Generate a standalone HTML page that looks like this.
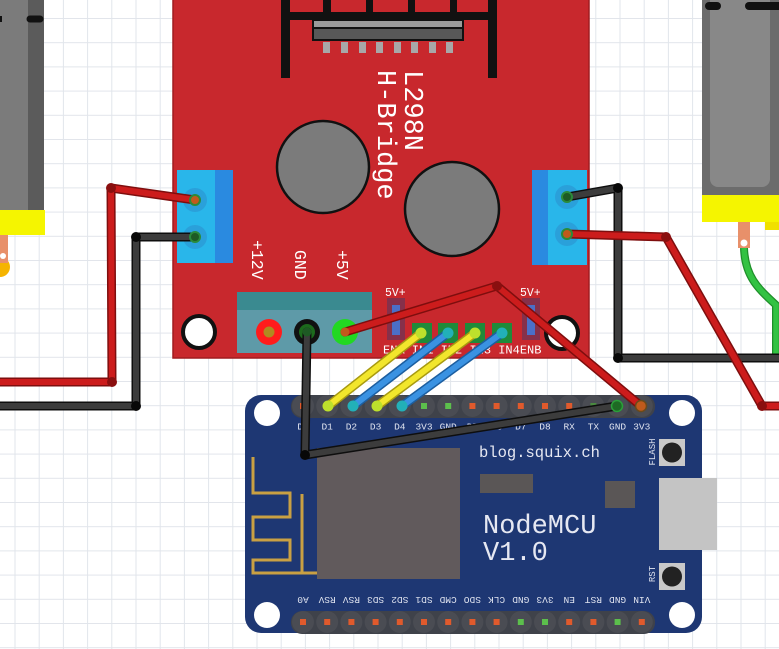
<!DOCTYPE html>
<html><head><meta charset="utf-8"><style>
html,body{margin:0;padding:0;background:#fff;}
svg{display:block;}
text{font-family:"Liberation Mono",monospace;}
</style></head><body>
<svg width="779" height="649" viewBox="0 0 779 649" xmlns="http://www.w3.org/2000/svg">
<defs>
<pattern id="grid" x="14.5" y="18" width="24.2" height="24.2" patternUnits="userSpaceOnUse">
<path d="M0.5 0V24.2M0 0.5H24.2" stroke="#e1e5eb" stroke-width="1" fill="none"/>
</pattern>
</defs>
<rect width="779" height="649" fill="#fff"/>
<rect width="779" height="649" fill="url(#grid)"/>

<!-- Left motor -->
<rect x="0" y="0" width="28" height="210" fill="#7b7b7b"/>
<rect x="28" y="0" width="16" height="210" fill="#5b5b5b"/>
<line x1="30" y1="19" x2="40" y2="19" stroke="#111" stroke-width="7" stroke-linecap="round"/>
<rect x="0" y="16" width="2" height="6" fill="#111"/>
<rect x="0" y="210" width="45" height="25" fill="#f5f500"/>
<circle cx="0" cy="267" r="10" fill="#f5b400"/>
<rect x="0" y="235" width="8" height="28" fill="#e8906a"/>
<circle cx="3" cy="256" r="3" fill="#fff"/>

<!-- Right motor -->
<rect x="702" y="0" width="77" height="195" fill="#6c6c6c"/>
<rect x="710" y="-10" width="60" height="197" rx="8" fill="#888888"/>
<line x1="709" y1="6" x2="717" y2="6" stroke="#111" stroke-width="8" stroke-linecap="round"/>
<line x1="749" y1="6" x2="782" y2="6" stroke="#111" stroke-width="8" stroke-linecap="round"/>
<rect x="702" y="195" width="77" height="27" fill="#f5f500"/>
<rect x="765" y="222" width="14" height="8" fill="#f0e000"/>
<path d="M744,248 C745,278 760,290 776,305 L776,362" fill="none" stroke="#1f8f2a" stroke-width="8"/>
<path d="M744,248 C745,278 760,290 776,305 L776,362" fill="none" stroke="#33c243" stroke-width="5.5"/>
<rect x="738" y="222" width="12" height="26" fill="#e8906a"/>
<circle cx="744" cy="243" r="3.5" fill="#fff"/>

<!-- L298N board -->
<rect x="173" y="-2" width="416" height="360" fill="#c8282d" stroke="#a01c20" stroke-width="1.5"/>
<g fill="#111">
<rect x="281" y="0" width="9" height="78"/>
<rect x="488" y="0" width="9" height="78"/>
<rect x="281" y="12" width="216" height="8"/>
<rect x="323" y="0" width="8" height="13"/>
<rect x="366" y="0" width="7" height="13"/>
<rect x="408" y="0" width="7" height="13"/>
<rect x="450" y="0" width="7" height="13"/>
</g>
<rect x="312" y="19" width="152" height="22" fill="#111"/>
<rect x="314" y="21" width="148" height="6" fill="#9b9b9b"/>
<rect x="314" y="29" width="148" height="10" fill="#585858"/>
<g fill="#a8a8a8">
<rect x="323" y="42" width="7" height="11"/>
<rect x="341" y="42" width="7" height="11"/>
<rect x="359" y="42" width="7" height="11"/>
<rect x="376" y="42" width="7" height="11"/>
<rect x="394" y="42" width="7" height="11"/>
<rect x="411" y="42" width="7" height="11"/>
<rect x="429" y="42" width="7" height="11"/>
<rect x="446" y="42" width="7" height="11"/>
</g>
<text transform="translate(405,70) rotate(90)" font-size="27" fill="#fff">L298N</text>
<text transform="translate(378,70) rotate(90)" font-size="27" fill="#fff">H-Bridge</text>

<circle cx="323" cy="167" r="46" fill="#7b7b7b" stroke="#111" stroke-width="2.5"/>
<circle cx="452" cy="209" r="47" fill="#7b7b7b" stroke="#111" stroke-width="2.5"/>

<!-- left terminal -->
<rect x="177" y="170" width="38" height="93" fill="#29b6ea"/>
<rect x="215" y="170" width="18" height="93" fill="#2a8ae0"/>
<circle cx="195" cy="200" r="12" fill="#2aa0da"/>
<circle cx="195" cy="237" r="12" fill="#2aa0da"/>
<!-- right terminal -->
<rect x="532" y="170" width="16" height="95" fill="#2a8ae0"/>
<rect x="548" y="170" width="39" height="95" fill="#29b6ea"/>
<circle cx="567" cy="197" r="12" fill="#2aa0da"/>
<circle cx="567" cy="234" r="12" fill="#2aa0da"/>

<!-- power labels -->
<text transform="translate(252,240) rotate(90)" font-size="16.5" fill="#fff">+12V</text>
<text transform="translate(295,250) rotate(90)" font-size="16.5" fill="#fff">GND</text>
<text transform="translate(337,250) rotate(90)" font-size="16.5" fill="#fff">+5V</text>

<!-- power terminal block -->
<rect x="237" y="292" width="135" height="61" fill="#5e9aa8"/>
<rect x="237" y="292" width="135" height="18" fill="#3a8a90"/>
<circle cx="269" cy="332" r="13" fill="#ff1c1c"/>
<circle cx="269" cy="332" r="5.5" fill="#b08a20"/>
<circle cx="307" cy="332" r="13" fill="#111"/>
<circle cx="307" cy="332" r="8" fill="#1c6a1c"/>
<circle cx="345" cy="332" r="13" fill="#22d822"/>

<!-- mounting holes -->
<circle cx="199" cy="332" r="16" fill="#fff" stroke="#111" stroke-width="4"/>
<circle cx="562" cy="333" r="16" fill="#fff" stroke="#111" stroke-width="4"/>

<!-- jumpers & pads -->
<text x="385" y="296" font-size="11.5" fill="#fff">5V+</text>
<text x="520" y="296" font-size="11.5" fill="#fff">5V+</text>
<rect x="387" y="298" width="18" height="42" fill="#86304a"/>
<rect x="392" y="305" width="8" height="30" fill="#4b6fc8"/>
<rect x="522" y="298" width="18" height="42" fill="#86304a"/>
<rect x="527" y="305" width="8" height="30" fill="#4b6fc8"/>
<g fill="#1f8a3a">
<rect x="412" y="323" width="20" height="20"/>
<rect x="438" y="323" width="20" height="20"/>
<rect x="465" y="323" width="20" height="20"/>
<rect x="492" y="323" width="20" height="20"/>
</g>
<text x="383" y="353.5" font-size="12" fill="#fff">ENA IN1 IN2 IN3 IN4ENB</text>

<!-- NodeMCU board -->
<rect x="245" y="395" width="457" height="238" rx="16" fill="#1e3773"/>
<circle cx="267" cy="413" r="13" fill="#fff"/>
<circle cx="682" cy="413" r="13" fill="#fff"/>
<circle cx="267" cy="615" r="13" fill="#fff"/>
<circle cx="682" cy="615" r="13" fill="#fff"/>

<!-- headers -->
<rect x="291" y="395" width="364" height="23" rx="11" fill="#3f424a"/>
<rect x="291" y="611" width="364" height="23" rx="11" fill="#3f424a"/>
<g fill="#4a4c53">
<circle cx="303" cy="406" r="11"/><circle cx="327.2" cy="406" r="11"/><circle cx="351.4" cy="406" r="11"/><circle cx="375.6" cy="406" r="11"/><circle cx="399.8" cy="406" r="11"/><circle cx="424" cy="406" r="11"/><circle cx="448.2" cy="406" r="11"/><circle cx="472.4" cy="406" r="11"/><circle cx="496.6" cy="406" r="11"/><circle cx="520.8" cy="406" r="11"/><circle cx="545" cy="406" r="11"/><circle cx="569.2" cy="406" r="11"/><circle cx="593.4" cy="406" r="11"/><circle cx="617.6" cy="406" r="11"/><circle cx="641.8" cy="406" r="11"/>
<circle cx="303" cy="622" r="11"/><circle cx="327.2" cy="622" r="11"/><circle cx="351.4" cy="622" r="11"/><circle cx="375.6" cy="622" r="11"/><circle cx="399.8" cy="622" r="11"/><circle cx="424" cy="622" r="11"/><circle cx="448.2" cy="622" r="11"/><circle cx="472.4" cy="622" r="11"/><circle cx="496.6" cy="622" r="11"/><circle cx="520.8" cy="622" r="11"/><circle cx="545" cy="622" r="11"/><circle cx="569.2" cy="622" r="11"/><circle cx="593.4" cy="622" r="11"/><circle cx="617.6" cy="622" r="11"/><circle cx="641.8" cy="622" r="11"/>
</g>
<!-- top pin squares -->
<g>
<rect x="300" y="403" width="6" height="6" fill="#e05a2c"/>
<rect x="421" y="403" width="6" height="6" fill="#5cbf4c"/>
<rect x="445.2" y="403" width="6" height="6" fill="#5cbf4c"/>
<rect x="469.4" y="403" width="6" height="6" fill="#e05a2c"/>
<rect x="493.6" y="403" width="6" height="6" fill="#e05a2c"/>
<rect x="517.8" y="403" width="6" height="6" fill="#e05a2c"/>
<rect x="542" y="403" width="6" height="6" fill="#e05a2c"/>
<rect x="566.2" y="403" width="6" height="6" fill="#e05a2c"/>
<rect x="590.4" y="403" width="6" height="6" fill="#4a8a40"/>
</g>
<!-- bottom pin squares -->
<g>
<rect x="300" y="619" width="6" height="6" fill="#e05a2c"/>
<rect x="324.2" y="619" width="6" height="6" fill="#e05a2c"/>
<rect x="348.4" y="619" width="6" height="6" fill="#e05a2c"/>
<rect x="372.6" y="619" width="6" height="6" fill="#e05a2c"/>
<rect x="396.8" y="619" width="6" height="6" fill="#e05a2c"/>
<rect x="421" y="619" width="6" height="6" fill="#e05a2c"/>
<rect x="445.2" y="619" width="6" height="6" fill="#e05a2c"/>
<rect x="469.4" y="619" width="6" height="6" fill="#e05a2c"/>
<rect x="493.6" y="619" width="6" height="6" fill="#e05a2c"/>
<rect x="517.8" y="619" width="6" height="6" fill="#5cbf4c"/>
<rect x="542" y="619" width="6" height="6" fill="#5cbf4c"/>
<rect x="566.2" y="619" width="6" height="6" fill="#e05a2c"/>
<rect x="590.4" y="619" width="6" height="6" fill="#e05a2c"/>
<rect x="614.6" y="619" width="6" height="6" fill="#5cbf4c"/>
<rect x="638.8" y="619" width="6" height="6" fill="#e05a2c"/>
</g>
<!-- top labels -->
<g font-size="9.5" fill="#dfe3ef" text-anchor="middle">
<text x="303" y="429.5">D0</text><text x="327.2" y="429.5">D1</text><text x="351.4" y="429.5">D2</text><text x="375.6" y="429.5">D3</text><text x="399.8" y="429.5">D4</text><text x="424" y="429.5">3V3</text><text x="448.2" y="429.5">GND</text><text x="472.4" y="429.5">D5</text><text x="496.6" y="429.5">D6</text><text x="520.8" y="429.5">D7</text><text x="545" y="429.5">D8</text><text x="569.2" y="429.5">RX</text><text x="593.4" y="429.5">TX</text><text x="617.6" y="429.5">GND</text><text x="641.8" y="429.5">3V3</text>
</g>
<!-- bottom labels (upside down) -->
<g font-size="9.5" fill="#dfe3ef" text-anchor="middle">
<text x="303" y="603" transform="rotate(180 303 600)">A0</text>
<text x="327.2" y="603" transform="rotate(180 327.2 600)">RSV</text>
<text x="351.4" y="603" transform="rotate(180 351.4 600)">RSV</text>
<text x="375.6" y="603" transform="rotate(180 375.6 600)">SD3</text>
<text x="399.8" y="603" transform="rotate(180 399.8 600)">SD2</text>
<text x="424" y="603" transform="rotate(180 424 600)">SD1</text>
<text x="448.2" y="603" transform="rotate(180 448.2 600)">CMD</text>
<text x="472.4" y="603" transform="rotate(180 472.4 600)">SDO</text>
<text x="496.6" y="603" transform="rotate(180 496.6 600)">CLK</text>
<text x="520.8" y="603" transform="rotate(180 520.8 600)">GND</text>
<text x="545" y="603" transform="rotate(180 545 600)">3V3</text>
<text x="569.2" y="603" transform="rotate(180 569.2 600)">EN</text>
<text x="593.4" y="603" transform="rotate(180 593.4 600)">RST</text>
<text x="617.6" y="603" transform="rotate(180 617.6 600)">GND</text>
<text x="641.8" y="603" transform="rotate(180 641.8 600)">VIN</text>
</g>

<!-- ESP module & antenna -->
<rect x="317" y="448" width="143" height="131" fill="#615a5c"/>
<polyline points="253,457 253,493 290,493 290,517 253,517 253,540 290,540 290,560 253,560 253,573 317,573" fill="none" stroke="#c9a043" stroke-width="3"/>
<line x1="302" y1="494" x2="302" y2="573" stroke="#c9a043" stroke-width="3"/>

<text x="479" y="457" font-size="15.5" fill="#e6e8f2">blog.squix.ch</text>
<rect x="480" y="474" width="53" height="19" fill="#5a5656"/>
<rect x="605" y="481" width="30" height="27" fill="#5a5656"/>
<text x="483" y="533" font-size="27" fill="#e6e8f2">NodeMCU</text>
<text x="483" y="560" font-size="27" fill="#e6e8f2">V1.0</text>

<!-- buttons & usb -->
<rect x="659" y="439" width="26" height="27" fill="#c9c9c9"/>
<circle cx="672" cy="452.5" r="10" fill="#222"/>
<rect x="659" y="563" width="26" height="27" fill="#c9c9c9"/>
<circle cx="672" cy="576.5" r="10" fill="#222"/>
<rect x="659" y="478" width="58" height="72" fill="#c4c4c4"/>
<text transform="translate(655,452) rotate(-90)" font-size="9" fill="#dfe3ef" text-anchor="middle">FLASH</text>
<text transform="translate(655,574) rotate(-90)" font-size="9" fill="#dfe3ef" text-anchor="middle">RST</text>

<!-- wires -->
<g fill="none" stroke-linejoin="round" stroke-linecap="round">
<polyline points="195,200 111,188 112,382 -6,382" stroke="#7e0e0e" stroke-width="9"/>
<polyline points="195,200 111,188 112,382 -6,382" stroke="#cc1c1c" stroke-width="6"/>
<polyline points="195,237 136,237 136,406 -6,406" stroke="#0e0e0e" stroke-width="9"/>
<polyline points="195,237 136,237 136,406 -6,406" stroke="#3c3c3c" stroke-width="6"/>
<polyline points="567,197 618,188 618,358 786,358" stroke="#0e0e0e" stroke-width="9"/>
<polyline points="567,197 618,188 618,358 786,358" stroke="#3c3c3c" stroke-width="6"/>
<polyline points="567,234 666,237 762,406 786,406" stroke="#7e0e0e" stroke-width="9"/>
<polyline points="567,234 666,237 762,406 786,406" stroke="#cc1c1c" stroke-width="6"/>
<line x1="328" y1="406" x2="421" y2="333" stroke="#a89a10" stroke-width="9"/>
<line x1="328" y1="406" x2="421" y2="333" stroke="#f2e62c" stroke-width="6"/>
<line x1="353" y1="406" x2="448" y2="333" stroke="#1c5ea0" stroke-width="9"/>
<line x1="353" y1="406" x2="448" y2="333" stroke="#3a92e2" stroke-width="6"/>
<line x1="377" y1="406" x2="475" y2="333" stroke="#a89a10" stroke-width="9"/>
<line x1="377" y1="406" x2="475" y2="333" stroke="#f2e62c" stroke-width="6"/>
<line x1="402" y1="406" x2="502" y2="333" stroke="#1c5ea0" stroke-width="9"/>
<line x1="402" y1="406" x2="502" y2="333" stroke="#3a92e2" stroke-width="6"/>
<polyline points="345,332 497,286 641,406" stroke="#7e0e0e" stroke-width="9"/>
<polyline points="345,332 497,286 641,406" stroke="#cc1c1c" stroke-width="6"/>
<polyline points="307,332 305,455 617,406" stroke="#0e0e0e" stroke-width="9"/>
<polyline points="307,332 305,455 617,406" stroke="#3c3c3c" stroke-width="6"/>
</g>
<!-- bend dots -->
<g fill="#8a0f0f">
<circle cx="111" cy="188" r="5"/><circle cx="112" cy="382" r="5"/>
<circle cx="666" cy="237" r="5"/><circle cx="762" cy="406" r="5"/>
<circle cx="497" cy="286" r="5"/>
</g>
<g fill="#080808">
<circle cx="136" cy="237" r="5"/><circle cx="136" cy="406" r="5"/>
<circle cx="618" cy="188" r="5"/><circle cx="618" cy="358" r="5"/>
<circle cx="305" cy="455" r="5"/>
</g>
<!-- wire ends -->
<circle cx="195" cy="200" r="5" fill="#c05a1c" stroke="#2a8a3a" stroke-width="2"/>
<circle cx="195" cy="237" r="5" fill="#1e5a24" stroke="#2a8a3a" stroke-width="2"/>
<circle cx="567" cy="197" r="5" fill="#1e5a24" stroke="#2a8a3a" stroke-width="2"/>
<circle cx="567" cy="234" r="5" fill="#c05a1c" stroke="#2a8a3a" stroke-width="2"/>
<circle cx="345" cy="332" r="4.5" fill="#c05a1c"/>
<circle cx="307" cy="332" r="4.5" fill="#1e5a24"/>
<circle cx="328" cy="406" r="5.5" fill="#bde02c"/>
<circle cx="421" cy="333" r="5.5" fill="#bde02c"/>
<circle cx="377" cy="406" r="5.5" fill="#bde02c"/>
<circle cx="475" cy="333" r="5.5" fill="#bde02c"/>
<circle cx="353" cy="406" r="5.5" fill="#22b0b8"/>
<circle cx="448" cy="333" r="5.5" fill="#22b0b8"/>
<circle cx="402" cy="406" r="5.5" fill="#22b0b8"/>
<circle cx="502" cy="333" r="5.5" fill="#22b0b8"/>
<circle cx="641" cy="406" r="5.5" fill="#c05a1c" stroke="#6a4a1a" stroke-width="1.5"/>
<circle cx="617" cy="406" r="5.5" fill="#1e6a24" stroke="#2aa03a" stroke-width="1.5"/>
</svg>
</body></html>
